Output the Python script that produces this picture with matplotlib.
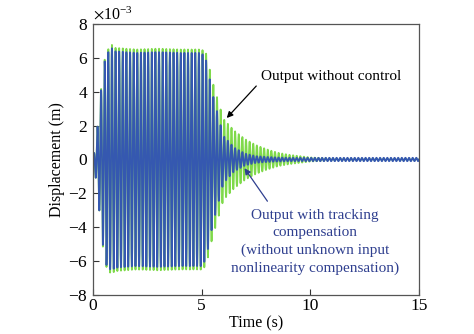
import numpy as np
import matplotlib
matplotlib.use("Agg")
import matplotlib.pyplot as plt
from matplotlib.ticker import ScalarFormatter

# envelope (amplitude in 1e-3 m)
t_env = [0, 0.1, 0.2, 0.3, 0.4, 0.5, 0.6, 0.75, 0.85, 1.0, 2.0, 3.0, 4.0, 5.0,
         5.2, 5.5, 6.0, 6.5, 7.0, 7.5, 8.0, 8.5, 9.0, 10.0, 11.0, 15.0]
amp_no_ctrl = [0, 0.8, 1.8, 3.1, 4.5, 5.6, 6.3, 6.6, 6.8, 6.6, 6.5, 6.55, 6.5, 6.5,
               6.3, 4.6, 2.4, 1.7, 1.2, 0.85, 0.6, 0.4, 0.28, 0.12, 0.05, 0.02]
amp_track = [0, 0.8, 1.8, 3.1, 4.4, 5.5, 6.2, 6.4, 6.6, 6.4, 6.3, 6.35, 6.3, 6.3,
             5.9, 3.9, 1.4, 0.7, 0.35, 0.2, 0.15, 0.12, 0.1, 0.1, 0.1, 0.1]
freq_hz = 6.0  # roughly counted from the peaks

xticks = [0, 5, 10, 15]
yticks = np.arange(-8, 9, 2) * 1e-3

t = np.linspace(0, 15, 6000)
carrier = np.sin(2 * np.pi * freq_hz * t)
y_green = np.interp(t, t_env, amp_no_ctrl) * 1e-3 * carrier
y_blue = np.interp(t, t_env, amp_track) * 1e-3 * carrier

plt.rcParams['font.family'] = ['Liberation Serif', 'DejaVu Serif']
plt.rcParams['font.size'] = 11.5
plt.rcParams['mathtext.fontset'] = 'stix'

fig = plt.figure(figsize=(4.74, 3.34), dpi=100)
ax = fig.add_axes([0.196, 0.117, 0.688, 0.811])

ax.plot(t, y_green, color='#7fd94a', lw=1.3)
ax.plot(t, y_blue, color='#3558b0', lw=1.3)

ax.set_xlim(0, 15)
ax.set_ylim(-8e-3, 8e-3)
ax.set_xticks(xticks)
ax.set_yticks(yticks)
fmt = ScalarFormatter(useMathText=True)
fmt.set_powerlimits((-3, -3))
ax.yaxis.set_major_formatter(fmt)
ax.tick_params(direction='in', length=4, width=0.8, colors='#333333',
               labelcolor='black', labelsize=12.5)
ax.tick_params(axis='x', pad=2)
for s in ax.spines.values():
    s.set_color('#555555')
    s.set_linewidth(0.9)

ax.set_xlabel('Time (s)')
ax.xaxis.set_label_coords(0.5, -0.075)
ax.set_ylabel('Displacement (m)', labelpad=2)

# annotations
ax.text(10.95, 4.93e-3, 'Output without control', ha='center', va='center', fontsize=11)
ax.annotate('', xy=(6.07, 2.33e-3), xytext=(7.6, 4.46e-3),
            arrowprops=dict(arrowstyle='-|>', color='black', lw=0.9, mutation_scale=9))

ax.text(10.2, -4.87e-3,
        'Output with tracking\ncompensation\n(without unknown input\nnonlinearity compensation)',
        ha='center', va='center', color='#2f3f8f', linespacing=1.4, fontsize=11)
ax.annotate('', xy=(6.9, -0.38e-3), xytext=(8.1, -2.6e-3),
            arrowprops=dict(arrowstyle='-|>', color='#2f3f8f', lw=0.9, mutation_scale=9))

fig.savefig('out.png', dpi=100)
